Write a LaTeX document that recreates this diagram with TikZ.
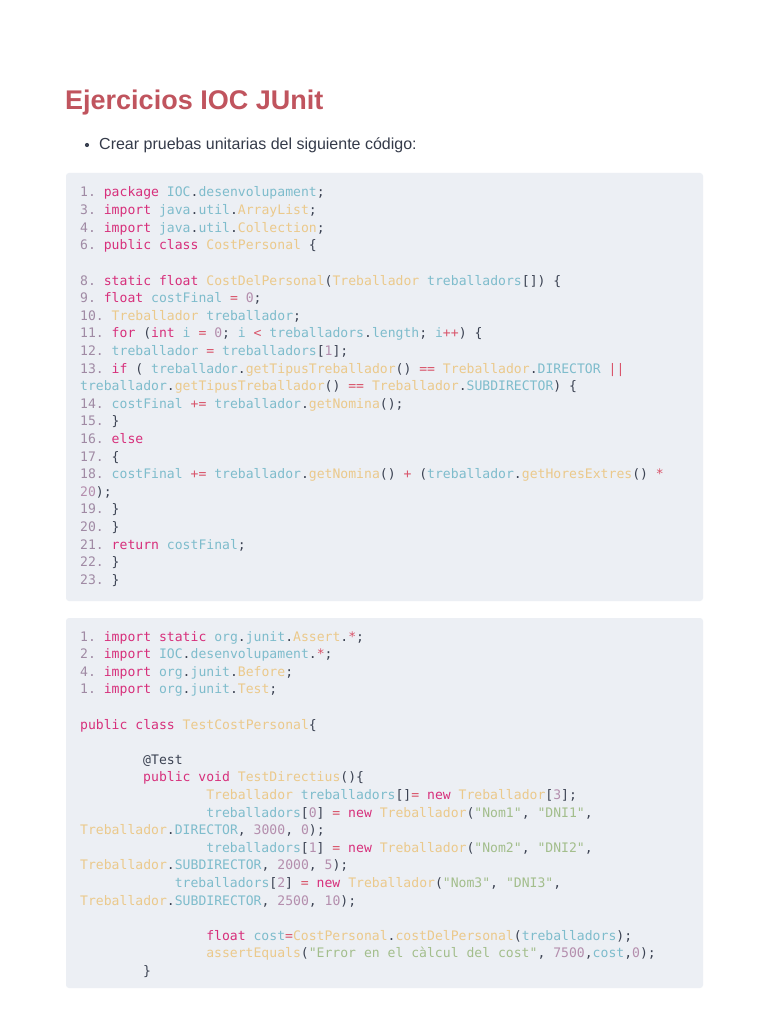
\documentclass[tikz,border=0pt]{standalone}
\usepackage{fontspec}
\setmainfont{Liberation Sans}
\setmonofont{DejaVu Sans Mono}
\definecolor{bx}{HTML}{ECEFF4}
\definecolor{tx}{HTML}{3B4252}
\definecolor{kw}{HTML}{D72F7B}
\definecolor{id}{HTML}{7EBCCC}
\definecolor{cl}{HTML}{EBC98B}
\definecolor{nu}{HTML}{B48EAD}
\definecolor{st}{HTML}{A3BE8C}
\definecolor{op}{HTML}{D9546A}
\definecolor{ln}{HTML}{A08AA4}
\definecolor{ti}{HTML}{C0545E}
\newcommand\Kw[1]{\textcolor{kw}{#1}}
\newcommand\Id[1]{\textcolor{id}{#1}}
\newcommand\Cl[1]{\textcolor{cl}{#1}}
\newcommand\Nu[1]{\textcolor{nu}{#1}}
\newcommand\St[1]{\textcolor{st}{#1}}
\newcommand\Op[1]{\textcolor{op}{#1}}
\newcommand\Ln[1]{\textcolor{ln}{#1}}
\begin{document}
\begin{tikzpicture}[x=1pt,y=-1pt,
  code/.style={anchor=base west,inner sep=0pt,font=\fontsize{13.1}{15}\ttfamily,text=tx},
  codebox/.style={fill=bx,rounded corners=3pt}]
\useasboundingbox (0,0) rectangle (768,1024);
\fill[white] (0,0) rectangle (768,1024);
\node[anchor=base west,inner sep=0pt,font=\fontsize{27}{30}\bfseries\selectfont,text=ti] (title) at (65,110) {Ejercicios IOC JUnit};
\fill[tx] (87,145) circle (2.1) coordinate (dot);
\node[anchor=base west,inner sep=0pt,font=\fontsize{16}{19}\selectfont,text=tx!90!black] (bul) at (99,150) {Crear pruebas unitarias del siguiente código:};
\path[codebox] (66,173) rectangle (703,601) coordinate (b1);
\path[codebox] (66,618) rectangle (703,988) coordinate (b2);
\def\Y#1{197+#1*17.6}
\node[code] (a0) at (80,{\Y0}) {\Ln{1.} \Kw{package} \Id{IOC}.\Id{desenvolupament};};
\node[code] (a1) at (80,{\Y1}) {\Ln{3.} \Kw{import} \Id{java}.\Id{util}.\Cl{ArrayList};};
\node[code] (a2) at (80,{\Y2}) {\Ln{4.} \Kw{import} \Id{java}.\Id{util}.\Cl{Collection};};
\node[code] (a3) at (80,{\Y3}) {\Ln{6.} \Kw{public} \Kw{class} \Cl{CostPersonal} \{};
\node[code] (a5) at (80,{\Y5}) {\Ln{8.} \Kw{static} \Kw{float} \Cl{CostDelPersonal}(\Cl{Treballador} \Id{treballadors}[]) \{};
\node[code] (a6) at (80,{\Y6}) {\Ln{9.} \Kw{float} \Id{costFinal} \Op{=} \Nu{0};};
\node[code] (a7) at (80,{\Y7}) {\Ln{10.} \Cl{Treballador} \Id{treballador};};
\node[code] (a8) at (80,{\Y8}) {\Ln{11.} \Kw{for} (\Kw{int} \Id{i} \Op{=} \Nu{0}; \Id{i} \Op{<} \Id{treballadors}.\Id{length}; \Id{i}\Op{++}) \{};
\node[code] (a9) at (80,{\Y9}) {\Ln{12.} \Id{treballador} \Op{=} \Id{treballadors}[\Nu{1}];};
\node[code] (a10) at (80,{\Y{10}}) {\Ln{13.} \Kw{if} ( \Id{treballador}.\Cl{getTipusTreballador}() \Op{==} \Cl{Treballador}.\Id{DIRECTOR} \Op{||}};
\node[code] (a11) at (80,{\Y{11}}) {\Id{treballador}.\Cl{getTipusTreballador}() \Op{==} \Cl{Treballador}.\Id{SUBDIRECTOR}) \{};
\node[code] (a12) at (80,{\Y{12}}) {\Ln{14.} \Id{costFinal} \Op{+=} \Id{treballador}.\Cl{getNomina}();};
\node[code] (a13) at (80,{\Y{13}}) {\Ln{15.} \}};
\node[code] (a14) at (80,{\Y{14}}) {\Ln{16.} \Kw{else}};
\node[code] (a15) at (80,{\Y{15}}) {\Ln{17.} \{};
\node[code] (a16) at (80,{\Y{16}}) {\Ln{18.} \Id{costFinal} \Op{+=} \Id{treballador}.\Cl{getNomina}() \Op{+} (\Id{treballador}.\Cl{getHoresExtres}() \Op{*}};
\node[code] (a17) at (80,{\Y{17}}) {\Nu{20});};
\node[code] (a18) at (80,{\Y{18}}) {\Ln{19.} \}};
\node[code] (a19) at (80,{\Y{19}}) {\Ln{20.} \}};
\node[code] (a20) at (80,{\Y{20}}) {\Ln{21.} \Kw{return} \Id{costFinal};};
\node[code] (a21) at (80,{\Y{21}}) {\Ln{22.} \}};
\node[code] (a22) at (80,{\Y{22}}) {\Ln{23.} \}};
\def\Z#1{641+#1*17.6}
\def\T#1{80+#1*7.88}
\node[code] (c0) at (80,{\Z0}) {\Ln{1.} \Kw{import} \Kw{static} \Id{org}.\Id{junit}.\Cl{Assert}.\Op{*};};
\node[code] (c1) at (80,{\Z1}) {\Ln{2.} \Kw{import} \Id{IOC}.\Id{desenvolupament}.\Op{*};};
\node[code] (c2) at (80,{\Z2}) {\Ln{4.} \Kw{import} \Id{org}.\Id{junit}.\Cl{Before};};
\node[code] (c3) at (80,{\Z3}) {\Ln{1.} \Kw{import} \Id{org}.\Id{junit}.\Cl{Test};};
\node[code] (c5) at (80,{\Z5}) {\Kw{public} \Kw{class} \Cl{TestCostPersonal}\{};
\node[code] (c7) at ({\T8},{\Z7}) {@Test};
\node[code] (c8) at ({\T8},{\Z8}) {\Kw{public} \Kw{void} \Cl{TestDirectius}()\{};
\node[code] (c9) at ({\T{16}},{\Z9}) {\Cl{Treballador} \Id{treballadors}[]\Op{=} \Kw{new} \Cl{Treballador}[\Nu{3}];};
\node[code] (c10) at ({\T{16}},{\Z{10}}) {\Id{treballadors}[\Nu{0}] \Op{=} \Kw{new} \Cl{Treballador}(\St{"Nom1"}, \St{"DNI1"},};
\node[code] (c11) at (80,{\Z{11}}) {\Cl{Treballador}.\Id{DIRECTOR}, \Nu{3000}, \Nu{0});};
\node[code] (c12) at ({\T{16}},{\Z{12}}) {\Id{treballadors}[\Nu{1}] \Op{=} \Kw{new} \Cl{Treballador}(\St{"Nom2"}, \St{"DNI2"},};
\node[code] (c13) at (80,{\Z{13}}) {\Cl{Treballador}.\Id{SUBDIRECTOR}, \Nu{2000}, \Nu{5});};
\node[code] (c14) at ({\T{12}},{\Z{14}}) {\Id{treballadors}[\Nu{2}] \Op{=} \Kw{new} \Cl{Treballador}(\St{"Nom3"}, \St{"DNI3"},};
\node[code] (c15) at (80,{\Z{15}}) {\Cl{Treballador}.\Id{SUBDIRECTOR}, \Nu{2500}, \Nu{10});};
\node[code] (c17) at ({\T{16}},{\Z{17}}) {\Kw{float} \Id{cost}\Op{=}\Cl{CostPersonal}.\Cl{costDelPersonal}(\Id{treballadors});};
\node[code] (c18) at ({\T{16}},{\Z{18}}) {\Cl{assertEquals}(\St{"Error en el càlcul del cost"}, \Nu{7500},\Id{cost},\Nu{0});};
\node[code] (c19) at ({\T8},{\Z{19}}) {\}};
\end{tikzpicture}
\end{document}
